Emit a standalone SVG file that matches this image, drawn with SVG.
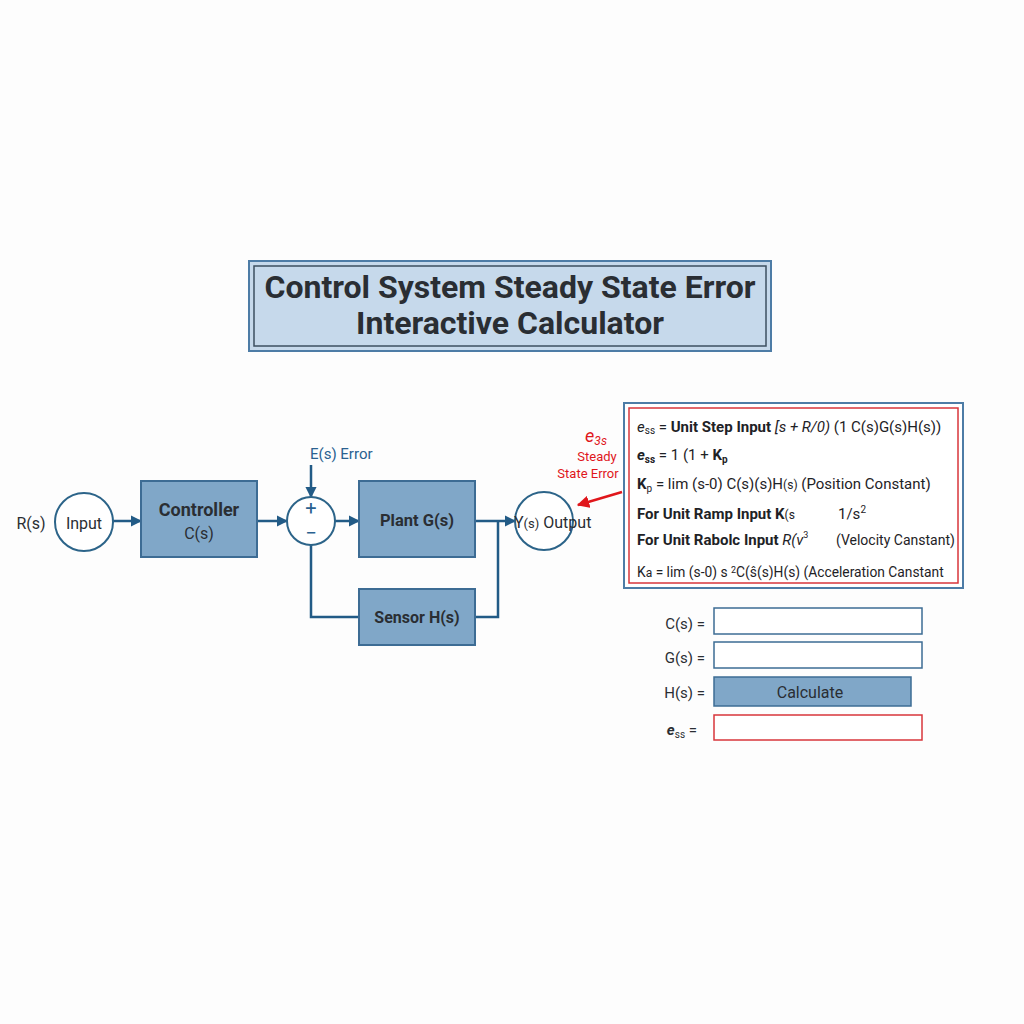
<svg xmlns="http://www.w3.org/2000/svg" width="1024" height="1024" viewBox="0 0 1024 1024">
<defs>
<style>
.t{font-family:Roboto,"Liberation Sans",sans-serif;fill:#2a2e33}
.blk{fill:#80a7c8;stroke:#3d6c94;stroke-width:2}
.ln{fill:none;stroke:#225b86;stroke-width:2.5}
.circ{fill:#ffffff;stroke:#2c6489;stroke-width:2}
.f{font-family:Roboto,"Liberation Sans",sans-serif;font-size:15px;fill:#1e2226}
.red{font-family:Roboto,"Liberation Sans",sans-serif;fill:#e0161b}
</style>
<marker id="ah" viewBox="0 0 10 10" refX="9" refY="5" markerWidth="4.5" markerHeight="4.5" orient="auto"><path d="M0,0 L10,5 L0,10 z" fill="#225b86"/></marker>
<marker id="ahr" viewBox="0 0 10 10" refX="9" refY="5" markerWidth="5" markerHeight="5" orient="auto"><path d="M0,0 L10,5 L0,10 z" fill="#e0161b"/></marker>
</defs>
<rect width="1024" height="1024" fill="#fdfdfd"/>

<g id="title">
<rect x="249" y="261" width="522" height="90" fill="#c6d9eb" stroke="#4d7ca6" stroke-width="2"/>
<rect x="254" y="266" width="512" height="80" fill="none" stroke="#3c4f60" stroke-width="1.5"/>
<text class="t" x="510" y="298" font-size="32" font-weight="bold" text-anchor="middle">Control System Steady State Error</text>
<text class="t" x="510" y="334" font-size="32" font-weight="bold" text-anchor="middle">Interactive Calculator</text>
</g>

<g id="connectors">
<line class="ln" x1="113" y1="521" x2="141" y2="521" marker-end="url(#ah)"/>
<line class="ln" x1="257" y1="521" x2="287" y2="521" marker-end="url(#ah)"/>
<line class="ln" x1="311" y1="465" x2="311" y2="497" marker-end="url(#ah)"/>
<line class="ln" x1="335" y1="521" x2="359" y2="521" marker-end="url(#ah)"/>
<line class="ln" x1="475" y1="521" x2="515" y2="521" marker-end="url(#ah)"/>
<polyline class="ln" points="498,521 498,617 475,617"/>
<polyline class="ln" points="359,617 311,617 311,545"/>
<line x1="622" y1="492" x2="578" y2="505" stroke="#e0161b" stroke-width="2.5" marker-end="url(#ahr)"/>
</g>

<g id="input">
<text class="t" x="31" y="529" font-size="16" text-anchor="middle">R(s)</text>
<circle class="circ" cx="84" cy="522" r="29"/>
<text class="t" x="84" y="529" font-size="16" text-anchor="middle">Input</text>
</g>

<g id="controller">
<rect class="blk" x="141" y="481" width="116" height="76"/>
<text class="t" x="199" y="516" font-size="18" font-weight="bold" text-anchor="middle">Controller</text>
<text class="t" x="199" y="539" font-size="16" text-anchor="middle">C(s)</text>
</g>

<g id="sum">
<text x="310" y="459" font-family="Roboto,'Liberation Sans',sans-serif" font-size="15" fill="#2a6190">E(s) Error</text>
<circle class="circ" cx="311" cy="521" r="24"/>
<text x="311" y="515" font-family="Roboto,'Liberation Sans',sans-serif" font-size="20" fill="#2a6190" text-anchor="middle">+</text>
<text x="311" y="540" font-family="Roboto,'Liberation Sans',sans-serif" font-size="20" fill="#2a6190" text-anchor="middle">−</text>
</g>

<g id="plant">
<rect class="blk" x="359" y="481" width="116" height="76"/>
<text class="t" x="417" y="526" font-size="16.5" font-weight="bold" text-anchor="middle">Plant G(s)</text>
</g>

<g id="sensor">
<rect class="blk" x="359" y="589" width="116" height="56"/>
<text class="t" x="417" y="623" font-size="16" font-weight="bold" text-anchor="middle">Sensor H(s)</text>
</g>

<g id="output">
<circle class="circ" cx="544" cy="521" r="29"/>
<text class="t" x="514" y="528" font-size="16">Y<tspan font-size="13">(s)</tspan>  Output</text>
</g>

<g id="ess-label">
<text class="red" x="596" y="442" font-size="18" font-style="italic" font-family="'Liberation Serif',serif" text-anchor="middle">e<tspan font-size="12" dy="3">3s</tspan></text>
<text class="red" x="597" y="461" font-size="13" text-anchor="middle">Steady</text>
<text class="red" x="588" y="478" font-size="13" text-anchor="middle">State Error</text>
</g>

<g id="formulas">
<rect x="624" y="403" width="339" height="185" fill="#ffffff" stroke="#4d7ca6" stroke-width="2"/>
<rect x="629" y="408" width="329" height="175" fill="none" stroke="#d8363b" stroke-width="1.5"/>
<text class="f" x="637" y="432"><tspan font-style="italic">e</tspan><tspan font-size="10" dy="2">ss</tspan><tspan dy="-2"> = </tspan><tspan font-weight="bold">Unit Step Input</tspan> <tspan font-style="italic">[s + R/0)</tspan>  (1 C(s)G(s)H(s))</text>
<text class="f" x="637" y="460" font-weight="bold"><tspan font-style="italic">e</tspan><tspan font-size="10" dy="3">ss</tspan><tspan dy="-3" font-weight="normal"> = 1 (1 + </tspan>K<tspan font-size="10" dy="3">p</tspan></text>
<text class="f" x="637" y="489"><tspan font-weight="bold">K</tspan><tspan font-size="10" dy="3">p</tspan><tspan dy="-3">   = lim (s-0) C(s)(s)H</tspan><tspan font-size="12">(s)</tspan> (Position Constant)</text>
<text class="f" x="637" y="519"><tspan font-weight="bold">For Unit Ramp Input K</tspan><tspan font-size="12">(s</tspan><tspan x="838">1/s</tspan><tspan font-size="10" dy="-6">2</tspan></text>
<text class="f" x="637" y="545"><tspan font-weight="bold">For Unit Rabolc Input </tspan><tspan font-style="italic">R(v</tspan><tspan font-size="9" dy="-7">3</tspan><tspan x="836" dy="7" font-size="14">(Velocity Canstant)</tspan></text>
<text class="f" x="637" y="577" style="font-size:13.8px">K<tspan font-size="12">a</tspan> = lim (s-0) s <tspan font-size="9" dy="-4">2</tspan><tspan dy="4">C(ŝ(s)H(s) (Acceleration Canstant</tspan></text>
</g>

<g id="form">
<text class="t" x="705" y="629" font-size="15" text-anchor="end">C(s) =</text>
<rect x="714" y="608" width="208" height="26" fill="#ffffff" stroke="#3d6c94" stroke-width="1.5"/>
<text class="t" x="705" y="663" font-size="15" text-anchor="end">G(s) =</text>
<rect x="714" y="642" width="208" height="26" fill="#ffffff" stroke="#3d6c94" stroke-width="1.5"/>
<text class="t" x="705" y="698" font-size="15" text-anchor="end">H(s) =</text>
<rect x="714" y="677" width="197" height="29" fill="#80a7c8" stroke="#3d6c94" stroke-width="1.5"/>
<text class="t" x="810" y="698" font-size="16" text-anchor="middle">Calculate</text>
<text class="t" x="697" y="735" font-size="15" text-anchor="end"><tspan font-weight="bold" font-style="italic">e</tspan><tspan font-size="10" dy="3">ss</tspan><tspan dy="-3"> =</tspan></text>
<rect x="714" y="715" width="208" height="25" fill="#ffffff" stroke="#d8363b" stroke-width="1.5"/>
</g>
</svg>
